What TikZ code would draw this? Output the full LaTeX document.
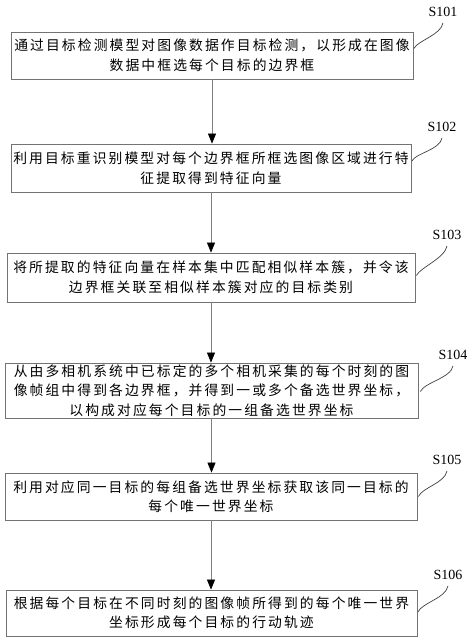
\documentclass[tikz,border=0pt]{standalone}
\usepackage{fontspec}
\setmainfont{Liberation Serif}
\newfontfamily\cjk{Noto Sans CJK SC}
\usetikzlibrary{arrows.meta}
\newcount\cjkcnt
\cjkcnt="4E00
\loop \XeTeXcharclass\cjkcnt=200 \ifnum\cjkcnt<"9FFF \advance\cjkcnt by 1 \repeat
\XeTeXcharclass"FF0C=200
\XeTeXinterchartokenstate=1
\XeTeXinterchartoks 200 200 = {\hskip 2.1pt\relax}
\begin{document}
\begin{tikzpicture}[x=1pt,y=1pt,
  stepbox/.style={draw=black!55, line width=0.8pt, inner sep=0pt, align=center,
    font=\cjk\fontsize{13.8pt}{19.5pt}\selectfont},
  lab/.style={font=\fontsize{14pt}{16pt}\selectfont, inner sep=0pt},
  arr/.style={draw=black!50, line width=0.8pt, -{Triangle[length=10pt,width=8pt,color=black]}},
  tie/.style={draw=black!75, line width=0.7pt}]
\useasboundingbox (0,0) rectangle (474,641);
\fill[white] (0,0) rectangle (474,641);

\node[stepbox, minimum width=402pt, minimum height=47pt] (b1) at (212,585.5)
  {通过目标检测模型对图像数据作目标检测，以形成在图像\\数据中框选每个目标的边界框};
\node[stepbox, minimum width=400pt, minimum height=48pt] (b2) at (211,473)
  {利用目标重识别模型对每个边界框所框选图像区域进行特\\征提取得到特征向量};
\node[stepbox, minimum width=408pt, minimum height=49pt] (b3) at (211,363.5)
  {将所提取的特征向量在样本集中匹配相似样本簇，并令该\\边界框关联至相似样本簇对应的目标类别};
\node[stepbox, minimum width=413pt, minimum height=55pt] (b4) at (211.5,250.5)
  {从由多相机系统中已标定的多个相机采集的每个时刻的图\\像帧组中得到各边界框，并得到一或多个备选世界坐标，\\以构成对应每个目标的一组备选世界坐标};
\node[stepbox, minimum width=412pt, minimum height=47pt] (b5) at (211,144.5)
  {利用对应同一目标的每组备选世界坐标获取该同一目标的\\每个唯一世界坐标};
\node[stepbox, minimum width=411pt, minimum height=46pt] (b6) at (211.5,28)
  {根据每个目标在不同时刻的图像帧所得到的每个唯一世界\\坐标形成每个目标的行动轨迹};

\node[lab] (l1) at (443,629) {S101};
\node[lab] (l2) at (442,514) {S102};
\node[lab] (l3) at (447,406) {S103};
\node[lab] (l4) at (453,286) {S104};
\node[lab] (l5) at (447,181) {S105};
\node[lab] (l6) at (448,66) {S106};

\draw[arr] (b1.south) -- (b1.south |- b2.north);
\draw[arr] (b2.south) -- (b2.south |- b3.north);
\draw[arr] (b3.south) -- (b3.south |- b4.north);
\draw[arr] (b4.south) -- (b4.south |- b5.north);
\draw[arr] (b5.south) -- (b5.south |- b6.north);

\draw[tie] ([xshift=0.5pt,yshift=7pt]b1.east) .. controls +(4,8) and +(-2,-12) .. ([yshift=-6pt]l1.south);
\draw[tie] ([xshift=0.5pt,yshift=7pt]b2.east) .. controls +(4,8) and +(-2,-12) .. ([yshift=-6pt]l2.south);
\draw[tie] ([xshift=1pt,yshift=2pt]b3.east) .. controls +(4,8) and +(-2,-12) .. ([yshift=-6pt]l3.south);
\draw[tie] ([xshift=2pt,yshift=-1pt]b4.east) .. controls +(4,9) and +(-2,-12) .. ([yshift=-6pt]l4.south);
\draw[tie] ([xshift=1pt,yshift=0pt]b5.east) .. controls +(4,9) and +(-2,-12) .. ([yshift=-6pt]l5.south);
\draw[tie] ([xshift=0.5pt,yshift=1pt]b6.east) .. controls +(4,9) and +(-2,-12) .. ([yshift=-6pt]l6.south);
\end{tikzpicture}
\end{document}
